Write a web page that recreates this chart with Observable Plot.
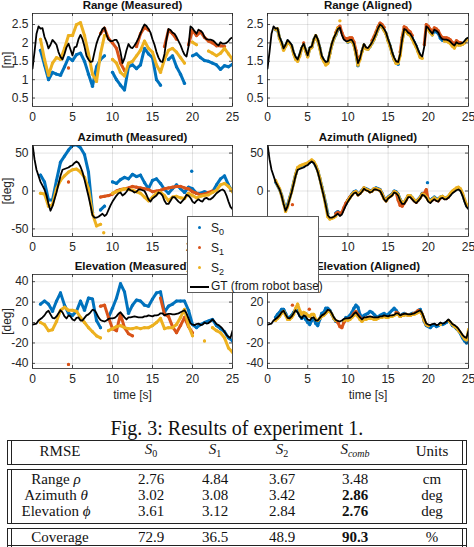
<!DOCTYPE html>
<html>
<head>
<meta charset="utf-8">
<script src="https://cdn.jsdelivr.net/npm/d3@7"></script>
<script src="https://cdn.jsdelivr.net/npm/@observablehq/plot@0.6"></script>
<style>
  html, body { margin: 0; padding: 0; background: #fff; }
  #page { position: relative; width: 474px; height: 547px; overflow: hidden; background: #fff; }
  #page svg { position: absolute; }
  .legend { position: absolute; left: 187px; top: 216px; width: 130px; height: 75px; background: #fff;
            border: 1px solid #5a5a5a; font-family: "Liberation Sans", Arial, sans-serif; font-size: 12px; color: #1a1a1a; }
  .legend .item { position: absolute; left: 0; height: 18px; white-space: nowrap; }
  .legend .sym { position: absolute; }
  .legend .lab { position: absolute; left: 23px; top: 1px; }
  .legend sub { font-size: 9px; vertical-align: -3px; }
  .caption { position: absolute; left: 0; top: 416px; width: 474px; text-align: center;
             font-family: "Liberation Serif", "Times New Roman", serif; font-size: 20px; line-height: 24px; color: #111; }
  .cell { position: absolute; transform: translate(-50%, -50%); white-space: nowrap;
          font-family: "Liberation Serif", "Times New Roman", serif; font-size: 15px; color: #111; line-height: 16px; }
  .cell sub { font-size: 10px; vertical-align: -3px; }
  .hl { position: absolute; height: 1px; background: #222; }
  .vl { position: absolute; width: 1px; background: #222; }
</style>
</head>
<body>
<div id="page"></div>
<script>
// ---------------- time axis ----------------
const xTicks = [0, 5, 10, 15, 20, 25];

// ---------------- ground truth (0.25 s steps, 0 … 25 s) ----------------
const gtRange = [
  1.30,1.75,2.25,2.45, 2.39,2.40,2.16,2.03,
  1.85,1.95,2.08,2.02, 1.95,1.75,1.62,1.55,
  1.70,1.88,1.98,1.82, 1.66,1.88,1.90,2.10,
  2.22,2.10,1.90,1.65, 1.55,1.48,1.50,1.75,
  1.98,2.14,2.25,2.38, 2.42,2.22,2.09,2.05,
  2.05,2.08,2.08,1.98, 1.75,1.45,1.58,1.80,
  1.97,1.88,1.86,1.93, 2.02,2.13,2.26,2.40,
  2.50,2.46,2.38,2.28, 2.10,1.95,1.75,1.60,
  1.50,1.48,1.70,2.10, 2.38,2.35,2.28,2.25,
  2.16,2.05,1.94,1.80, 1.68,1.63,1.90,2.45,
  2.40,2.32,2.25,2.36, 2.33,2.28,2.16,2.10,
  2.09,2.09,2.07,2.03, 1.97,1.93,2.02,1.98,
  1.98,2.00,2.05,2.12,2.15];
const gtAzimuth = [
  62,42,28,20, 12,7,2,-6,
  -17,-26,-20,-11, -2,9,20,28,
  29,30,31,33, 34,37,39,37,
  32,25,15,4, -7,-19,-32,-35,
  -35,-34,-32,-30, -33,-31,-25,-19,
  -14,-10,-6,-3, -2,-6,-4,-1,
  3,1,0,-2, -1,2,2,1,
  0,-5,-11,-14, -10,-8,-6,-2,
  -3,-6,-13,-17, -17,-13,-8,-8,
  -11,-14,-16,-13, -10,-5,-6,-9,
  -14,-16,-13,-11, -13,-14,-10,-9,
  -11,-11,-9,-6, -3,-1,1,2,
  0,-6,-14,-21,-24];
const gtElevation = [
  -2,-1.5,-1,2, 3.5,5,7,10,
  11.5,8,4.5,4, 6,9,12,10,
  6,4,7,6, 3,2,4.5,5,
  2,2,4.5,7, 8,10,12.5,12,
  9,5,2.5,1.5, 1,2,3.5,4,
  4,4.5,6,8.5, 10,7.5,5,3,
  5,5,5.5,6, 5.5,5,5,5,
  6,6,7,6.5, 6,7,7,7.5,
  9,9,7,8, 8.5,8.5,8,8,
  8.5,9,10,11, 12,9,4,-1,
  -2,-2.5,-1.5,-1, -2.5,-2,0,-1,
  -0.5,1,3,1, -1.5,-2.5,-4,-6,
  -9,-12,-14,-15,-8];

// ---------------- measured sensor readings (0.5 s steps, 0 … 25 s) ----------------
const rangeS0 = [
  null,null,1.80,1.40,1.00,1.20,1.15,1.12,1.35,1.60,
  1.52,1.68,1.72,1.50,1.15,0.82,1.35,1.55,1.65,null,
  1.20,1.00,0.85,0.72,1.35,1.40,1.30,1.40,1.85,1.70,
  1.60,1.00,0.85,null,1.55,1.65,1.35,1.15,0.90,null,
  1.65,1.70,1.60,1.52,1.50,1.45,1.40,1.28,1.38,1.35,
  1.42];
const rangeS1 = [
  null,null,null,null,null,null,null,null,null,1.32,
  null,null,null,null,null,null,null,2.25,2.40,2.12,
  2.00,1.85,1.45,1.25,null,null,1.90,2.25,2.42,2.35,
  null,null,null,1.90,2.35,2.25,2.10,null,null,1.95,
  2.35,2.20,2.30,2.15,2.05,2.00,1.92,1.92,1.90,null,
  null];
const rangeS2 = [
  null,null,2.10,1.55,1.12,1.45,1.60,1.55,1.85,2.20,
  2.20,2.50,2.55,2.20,1.70,1.15,0.95,1.70,2.20,null,
  1.55,1.45,1.20,1.10,1.45,1.50,1.65,1.80,2.05,1.85,
  1.75,1.40,1.20,1.55,1.80,1.85,1.75,1.60,1.45,null,
  2.02,1.95,null,null,1.78,1.72,1.65,1.72,1.85,1.70,
  1.55];
const azimuthS0 = [
  null,null,21,12,-12,-12,14,38,46,54,
  60,61,57,48,25,-28,null,-25,-20,null,
  12,10,15,18,16,22,19,21,11,3,
  14,16,10,2,-3,3,8,3,-2,5,
  3,-3,-3,-1,-3,-1,8,16,20,8,
  -1];
const azimuthS1 = [
  null,null,null,null,null,null,null,null,null,12,
  null,null,null,null,null,null,null,-8,-7,-6,
  -4,0,2,3,4,6,5,4,3,2,
  -1,0,1,3,4,5,6,6,4,3,
  -1,-3,-5,-4,-2,0,null,null,null,null,
  null];
const azimuthS2 = [
  null,null,-3,-4,-20,-18,3,14,20,25,
  28,29,25,18,3,-30,-46,-44,null,null,
  -3,-1,1,3,2,1,-1,-3,-8,-13,
  -8,-3,-2,-6,-13,-8,-7,-9,-10,-3,
  -6,-9,-7,-6,-5,-2,1,8,10,6,
  -1];
const elevationS0 = [
  null,null,18,21,18,11,21,29,17,9,
  7,11,21,12,24,23,2,-5,null,5,
  14,24,38,30,9,17,22,21,17,16,
  23,29,30,10,16,18,21,21,21,12,
  -2,-5,-2,0,1.5,3,-3,-6,-9,-15,
  -18];
const elevationS1 = [
  null,null,null,null,null,null,null,null,null,-41,
  null,null,null,null,null,null,null,16,17,5,
  -6,-8,8,-5,-11,-13,null,null,null,null,
  null,null,24,8,6,-4,-10,-3,5,-4,
  -10,null,null,null,null,null,null,null,null,null,
  null];
const elevationS2 = [
  null,null,0,-2,-8,-7,1,12,15,12,
  12,11,5,0,-5,-9,-13,-15,null,-8,
  -6,-4,-3,-5,-6,-6,-5,-6,-5,-5,
  -3,0,4,-6,-5,-5,-2,5,13,-3,
  -13,null,null,-18,null,-5,-8,-10,-15,-25,
  -29];

// ---------------- aligned sensor readings (0.25 s steps, 0 … 25 s) ----------------
const rangeAlignedS0 = [
  null,null,null,null, 2.36,2.37,2.13,2.00,
  1.82,1.92,2.05,1.99, 1.92,1.72,1.58,1.52,
  1.67,1.85,1.95,1.80, 1.63,1.85,1.88,2.08,
  2.19,2.07,1.87,1.62, 1.52,1.43,1.47,1.72,
  1.95,2.11,2.22,2.35, 2.39,null,null,null,
  2.02,2.05,2.05,1.95, 1.72,1.38,null,1.77,
  1.94,1.85,1.83,1.90, 1.99,2.10,2.23,2.37,
  2.47,2.43,2.35,2.25, 2.07,1.92,1.72,1.55,
  1.45,1.42,null,2.07, 2.35,2.32,2.25,2.22,
  2.13,2.02,1.91,1.77, 1.63,null,null,null,
  2.37,2.29,2.22,2.33, 2.30,2.25,2.13,2.07,
  2.06,2.06,2.04,2.00, 1.94,1.90,1.99,1.95,
  1.95,1.97,2.02,2.09,2.12];
const rangeAlignedS1 = [
  null,null,null,null, null,null,null,null,
  null,null,null,null, null,null,null,null,
  null,null,2.00,null, null,null,null,null,
  null,null,null,null, null,null,null,null,
  null,null,2.28,2.41, 2.46,2.28,2.15,2.12,
  2.12,2.14,2.14,2.03, 1.80,1.50,1.62,null,
  null,null,null,null, 2.06,2.17,2.30,2.44,
  2.54,2.50,2.42,null, null,null,null,null,
  null,null,1.75,2.15, 2.44,2.41,2.34,2.30,
  2.20,null,null,null, null,null,1.95,2.50,
  2.45,2.37,2.30,2.41, 2.38,2.33,2.21,2.15,
  2.14,2.14,2.12,2.08, 2.01,1.97,2.06,2.02,
  2.01,null,null,null,null];
const rangeAlignedS2 = [
  null,null,null,null, 2.37,2.38,2.12,1.98,
  1.80,1.90,2.04,1.98, 1.90,1.70,1.55,1.50,
  1.64,1.84,1.95,1.78, 1.62,1.84,1.87,2.07,
  2.20,2.06,1.85,1.60, 1.50,1.40,1.44,1.70,
  1.95,2.12,2.24,2.40, null,null,null,null,
  2.03,2.06,2.05,1.94, 1.70,1.40,1.55,1.76,
  1.94,1.84,1.83,1.90, 2.00,2.10,2.24,2.38,
  2.48,2.44,2.34,2.24, 2.05,1.90,1.70,1.55,
  1.44,1.45,1.66,2.06, 2.34,2.32,2.24,2.20,
  2.10,1.98,1.88,1.74, 1.60,1.58,null,null,
  2.36,2.28,2.22,null, null,null,null,null,
  2.05,2.05,2.02,1.98, 1.91,1.86,1.96,1.94,
  1.94,1.96,2.00,2.08,2.12];
const azimuthAlignedS0 = [
  null,null,null,null, 12,7,2,-5,
  -15,-23,-18,-9, 0,11,22,30,
  31,33,34,35, 36,38,40,38,
  33,27,17,6, -5,-17,-30,null,
  null,null,-29,-27, -30,null,null,-17,
  -12,-8,-4,-1, 0,-4,-2,1,
  4,3,2,0, 1,3,4,3,
  2,-3,-9,-12, -8,-6,-4,0,
  -1,-4,-11,-15, -15,-11,-6,-6,
  -9,-12,-14,-11, -8,-3,null,null,
  -10,-12,-10,-8, -10,-11,-8,-7,
  -9,-9,-7,-4, -1,1,3,4,
  2,-4,-12,-19,-22];
const azimuthAlignedS1 = [
  null,null,null,null, null,null,null,null,
  null,null,null,null, null,null,null,null,
  null,null,null,null, null,null,null,null,
  null,null,null,null, null,null,null,null,
  null,null,-30,-28, -30,-28,-22,-16,
  -12,-8,-5,-2, -1,-5,-3,0,
  4,2,1,-1, 0,3,3,2,
  1,-4,-10,-13, -9,-7,-5,-1,
  -2,-12,-19,-20, -16,-12,-7,-7,
  -10,-13,-15,-12, -9,-4,-3,2,
  -12,-14,-12,-10, -12,-13,-9,-8,
  -10,-10,-8,null, null,null,null,null,
  null,null,null,null,null];
const azimuthAlignedS2 = [
  null,null,null,null, 14,8,3,-6,
  -16,-27,-21,-10, -1,10,22,31,
  33,34,35,36, 37,39,41,39,
  34,27,17,5, -6,-20,-34,-37,
  -36,-35,-33,null, null,null,null,null,
  -13,-9,-5,-2, -1,-5,-3,0,
  4,2,1,-1, 0,3,3,2,
  1,-4,-10,-13, -9,-7,-5,-1,
  -2,-5,-12,-15, -15,-11,-6,-6,
  -9,-12,-14,-12, -9,-4,-5,-8,
  -12,-14,-11,-9, -11,-12,-8,-7,
  -9,-9,-7,-3, 0,2,4,5,
  3,-3,-11,-18,-21];
const elevationAlignedS0 = [
  null,null,null,null, 5,8,10,13,
  13,9,5,5, 7,10,13,11,
  7,4,6,3, 0,-2,2,4,
  -1,-3,3,9, 10,14,14,12,
  8,4,1,null, null,null,1,5,
  5,7,10,14, 17,15,8,4,
  7,8,9,11, 10,8,6,5,
  7,8,9,7, 8,10,12,14,
  12,9,6,8, 9,8,7,8,
  9,9,10,12, 13,8,1,-3,
  -4,-5,-3,-2, -4,-3,-1,-2,
  -1,0,2,0, -3,-4,-6,-8,
  -11,-15,-18,-20,-12];
const elevationAlignedS1 = [
  null,null,null,null, null,null,null,null,
  null,null,null,null, null,null,null,null,
  null,null,null,null, null,null,null,null,
  null,null,null,null, null,null,null,null,
  null,null,2,0, -4,-5,0,3,
  3,4,6,9, 11,8,5,2,
  4,4,5,null, null,null,null,null,
  null,null,null,null, null,null,null,null,
  10,9,6,7, 8,8,7,7,
  8,9,10,12, 11,8,2,-2,
  -3,null,null,null, null,null,null,null,
  null,null,null,null, null,null,null,null,
  null,null,null,null,null];
const elevationAlignedS2 = [
  null,null,null,null, 2,4,6,9,
  11,7,3,3, 5,8,14,18,
  12,8,10,9, 7,6,8,8,
  3,2,4,6, 7,9,11,11,
  8,4,2,null, null,null,2,3,
  2,3,5,7, 8,6,3,1,
  3,3,4,4, 4,3,3,4,
  5,5,6,5, 5,6,6,7,
  8,8,6,7, 7,8,7,7,
  8,8,9,10, 11,8,2,-2,
  -3,null,null,null, null,null,-2,null,
  null,null,2,0, -2,-4,-5,-8,
  -10,-13,-16,-17,-7];

// isolated readings: [time, value, sensor index]
const azimuthExtra = [[19.9, 26, 0], [8.9, -55, 2]];
const rangeAlignedExtra = [[9.0, 2.6, 2]];
const azimuthAlignedExtra = [[19.9, 11, 0], [3.1, -18, 1]];
const elevationAlignedExtra = [[3.1, 17, 1], [5.2, 13, 1]];

// ---------------- axis ticks ----------------
const rangeTicks = [0.5, 1, 1.5, 2, 2.5];
const azimuthTicks = [-50, 0, 50];
const elevationTicks = [-40, -20, 0, 20, 40];

// ---------------- legend & table ----------------
const sensorNames = ["S0", "S1", "S2"];
const sensorColors = ["#0072BD", "#D95319", "#EDB120"];
const gtLabel = "GT (from robot base)";
const caption = "Fig. 3: Results of experiment 1.";
const tableColumns = ["RMSE", "S_0", "S_1", "S_2", "S_comb", "Units"];
const errorRows = ["Range ρ", "Azimuth θ", "Elevation ϕ"];
const rmseS0 = [2.76, 3.02, 3.61];
const rmseS1 = [4.84, 3.08, 3.12];
const rmseS2 = [3.67, 3.42, 2.84];
const rmseComb = [3.48, 2.86, 2.76];
const combBold = [false, true, true];
const units = ["cm", "deg", "deg"];
const coverage = [72.9, 36.5, 48.9, 90.3];
const coverageUnit = "%";

// ---------------- drawing ----------------
const page = document.getElementById("page");
// box the legend occupies on the page; tick labels that fall under it are left out
const legendBox = {x0: 187, x1: 319, y0: 216, y1: 293};

function toRows(values) {
  const step = 25 / (values.length - 1);
  return values.map((v, i) => ({t: i * step, v: v == null ? NaN : v}));
}

function panel({left, top, frameH, column, title, domain, ticks, yLabel, gt, sensors, extra = [], xLabel}) {
  const width = 237, height = 140, mt = 13, mb = height - mt - frameH;
  const ml = column === 0 ? 32 : 30, mr = column === 0 ? 5 : 6;
  const fw = width - ml - mr;
  const ink = "#262626";
  // y positions of tick labels, to skip the ones hidden by the legend box
  const yPix = v => top + mt + (domain[1] - v) / (domain[1] - domain[0]) * frameH;
  const labelX = left + ml - 12;
  const shownTicks = ticks.filter(v => !(labelX > legendBox.x0 && labelX < legendBox.x1 &&
                                         yPix(v) > legendBox.y0 && yPix(v) < legendBox.y1));
  const marks = [
    Plot.gridX(xTicks, {stroke: ink, strokeOpacity: 0.12}),
    Plot.gridY(ticks, {stroke: ink, strokeOpacity: 0.12})
  ];
  sensors.forEach((vals, k) => {
    const data = toRows(vals);
    marks.push(Plot.line(data, {x: "t", y: "v", stroke: sensorColors[k], strokeWidth: 3, clip: true}));
    marks.push(Plot.dot(data, {x: "t", y: "v", r: 1.6, fill: sensorColors[k], clip: true}));
  });
  [0, 1, 2].forEach(k => {
    const pts = extra.filter(d => d[2] === k);
    if (pts.length) marks.push(Plot.dot(pts, {x: d => d[0], y: d => d[1], r: 1.7, fill: sensorColors[k], clip: true}));
  });
  marks.push(
    Plot.line(toRows(gt), {x: "t", y: "v", stroke: "#000", strokeWidth: 1.8, clip: true}),
    Plot.frame({stroke: ink, strokeWidth: 0.8}),
    Plot.tickX(xTicks, {insetTop: frameH - 3, stroke: ink, strokeWidth: 0.8}),
    Plot.tickX(xTicks, {insetBottom: frameH - 3, stroke: ink, strokeWidth: 0.8}),
    Plot.tickY(ticks, {insetRight: fw - 3, stroke: ink, strokeWidth: 0.8}),
    Plot.tickY(ticks, {insetLeft: fw - 3, stroke: ink, strokeWidth: 0.8}),
    Plot.axisX(xTicks, {tickSize: 0, tickPadding: 6, label: null, tickFormat: d => String(d)}),
    Plot.axisY(shownTicks, {tickSize: 0, tickPadding: 4, label: null, tickFormat: d => String(d)}),
    Plot.text([title], {text: d => d, frameAnchor: "top", lineAnchor: "middle", dy: -8,
                        fontWeight: "bold", fontSize: 11.5, fill: "#111"})
  );
  if (yLabel) marks.push(Plot.text([yLabel], {text: d => d, frameAnchor: "left", textAnchor: "middle", lineAnchor: "middle",
                                              rotate: -90, dx: -25, fontSize: 12}));
  if (xLabel) marks.push(Plot.text([xLabel], {text: d => d, frameAnchor: "bottom", lineAnchor: "middle", dy: 27, fontSize: 12}));
  const svg = Plot.plot({
    width, height, marginTop: mt, marginBottom: mb, marginLeft: ml, marginRight: mr,
    style: {fontFamily: "'Liberation Sans', Arial, sans-serif", fontSize: "12px", color: ink,
            background: "transparent", overflow: "visible"},
    x: {domain: [0, 25]},
    y: {domain},
    marks
  });
  svg.style.left = left + "px";
  svg.style.top = top + "px";
  page.appendChild(svg);
}

const rows = [
  {top: 0, frameH: 93, name: "Range", domain: [0.27, 2.8], ticks: rangeTicks, yLabel: "[m]",
   gt: gtRange, measured: [rangeS0, rangeS1, rangeS2], aligned: [rangeAlignedS0, rangeAlignedS1, rangeAlignedS2],
   measuredExtra: [], alignedExtra: rangeAlignedExtra},
  {top: 132, frameH: 91, name: "Azimuth", domain: [-60, 60], ticks: azimuthTicks, yLabel: "[deg]",
   gt: gtAzimuth, measured: [azimuthS0, azimuthS1, azimuthS2], aligned: [azimuthAlignedS0, azimuthAlignedS1, azimuthAlignedS2],
   measuredExtra: azimuthExtra, alignedExtra: azimuthAlignedExtra},
  {top: 261, frameH: 94, name: "Elevation", domain: [-45, 47], ticks: elevationTicks, yLabel: "[deg]",
   gt: gtElevation, measured: [elevationS0, elevationS1, elevationS2], aligned: [elevationAlignedS0, elevationAlignedS1, elevationAlignedS2],
   measuredExtra: [], alignedExtra: elevationAlignedExtra, xLabel: "time [s]"}
];

rows.forEach(r => {
  panel({left: 0, top: r.top, frameH: r.frameH, column: 0, title: r.name + " (Measured)", domain: r.domain,
         ticks: r.ticks, yLabel: r.yLabel, gt: r.gt, sensors: r.measured, extra: r.measuredExtra, xLabel: r.xLabel});
  panel({left: 237, top: r.top, frameH: r.frameH, column: 1, title: r.name + " (Aligned)", domain: r.domain,
         ticks: r.ticks, yLabel: "", gt: r.gt, sensors: r.aligned, extra: r.alignedExtra, xLabel: r.xLabel});
});

// legend
const legend = document.createElement("div");
legend.className = "legend";
const itemTops = [3, 23, 43, 61];
sensorNames.forEach((name, k) => {
  const it = document.createElement("div");
  it.className = "item";
  it.style.top = itemTops[k] + "px";
  it.innerHTML = `<span class="sym" style="left:10px;top:6px;width:3px;height:3px;border-radius:50%;background:${sensorColors[k]}"></span>` +
                 `<span class="lab">${name[0]}<sub>${name.slice(1)}</sub></span>`;
  legend.appendChild(it);
});
const gtItem = document.createElement("div");
gtItem.className = "item";
gtItem.style.top = itemTops[3] + "px";
gtItem.innerHTML = `<span class="sym" style="left:2px;top:8px;width:19px;height:2px;background:#000"></span>` +
                   `<span class="lab">${gtLabel}</span>`;
legend.appendChild(gtItem);
page.appendChild(legend);

// caption
const cap = document.createElement("div");
cap.className = "caption";
cap.textContent = caption;
page.appendChild(cap);

// table
const colX = [60, 151, 215, 282, 355, 432];
const headerY = 451, bodyY = [479, 495, 511], coverageY = 537;
function cell(html, x, y) {
  const c = document.createElement("div");
  c.className = "cell";
  c.style.left = x + "px";
  c.style.top = y + "px";
  c.innerHTML = html;
  page.appendChild(c);
}
function mathLabel(s) {
  if (!s.includes("_")) return s;
  const [base, sub] = s.split("_");
  return sub.length > 1 ? `<i>${base}</i><sub><i>${sub}</i></sub>` : `<i>${base}</i><sub>${sub}</sub>`;
}
function line(cls, x, y, len) {
  const d = document.createElement("div");
  d.className = cls;
  d.style.left = x + "px";
  d.style.top = y + "px";
  if (cls === "hl") d.style.width = len + "px"; else d.style.height = len + "px";
  page.appendChild(d);
}
tableColumns.forEach((c, i) => cell(mathLabel(c), colX[i], headerY));
errorRows.forEach((r, i) => {
  const [word, sym] = r.split(" ");
  cell(`${word} <i>${sym}</i>`, colX[0] - 4, bodyY[i]);
  cell(rmseS0[i].toFixed(2), colX[1], bodyY[i]);
  cell(rmseS1[i].toFixed(2), colX[2], bodyY[i]);
  cell(rmseS2[i].toFixed(2), colX[3], bodyY[i]);
  const v = rmseComb[i].toFixed(2);
  cell(combBold[i] ? `<b>${v}</b>` : v, colX[4], bodyY[i]);
  cell(units[i], colX[5], bodyY[i]);
});
cell("Coverage", colX[0], coverageY);
coverage.forEach((v, i) => cell(i === 3 ? `<b>${v.toFixed(1)}</b>` : v.toFixed(1), colX[i + 1], coverageY));
cell(coverageUnit, colX[5], coverageY);

// table rules
const tl = 7, tr = 466;
[440, 464, 469, 523, 528, 545].forEach(y => line("hl", tl, y, tr - tl + 1));
[[440, 464], [469, 523], [528, 547]].forEach(([y0, y1]) => {
  [tl, tl + 4, tr - 4, tr].forEach(x => line("vl", x, y0, y1 - y0));
});
</script>
</body>
</html>
